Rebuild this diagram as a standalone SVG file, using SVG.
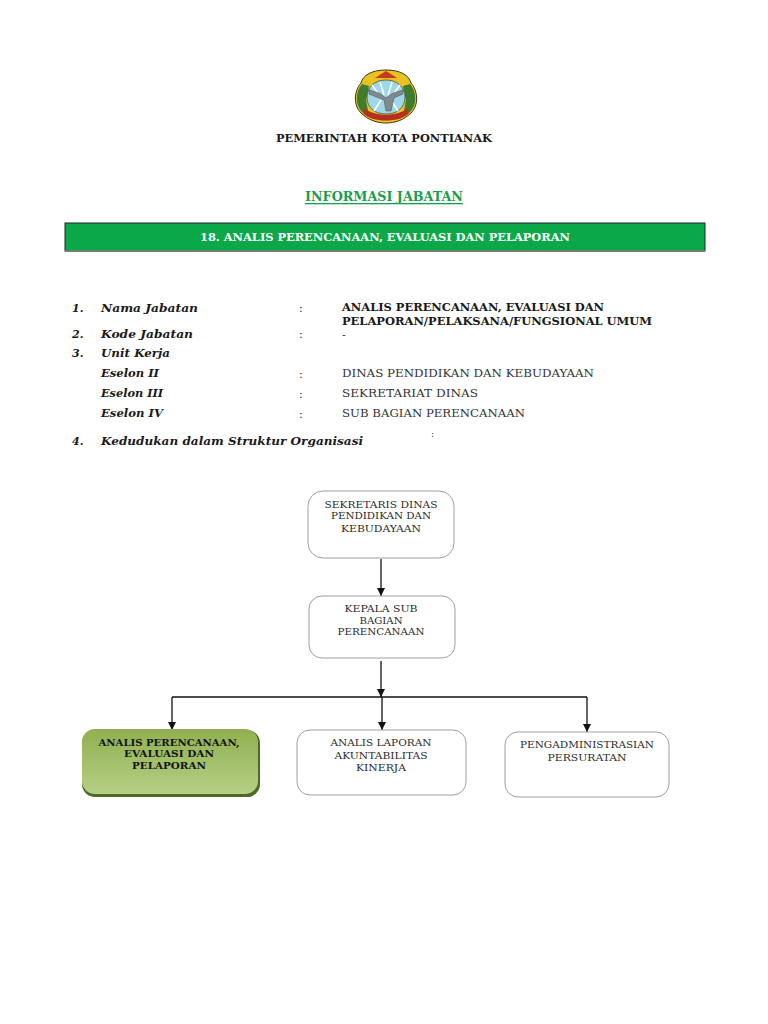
<svg xmlns="http://www.w3.org/2000/svg" width="768" height="1024" viewBox="0 0 768 1024">
<style>
text{font-family:"DejaVu Serif","Liberation Serif",serif;fill:#1a1a1a}
.b{font-weight:700}
.i{font-weight:700;font-style:italic;font-size:11px}
.v{font-size:11px;fill:#333}
.n{font-size:10px;text-anchor:middle;fill:#2a2a2a}
.box{fill:#fff;stroke:#9aa39a;stroke-width:1}
.c{fill:none;stroke:#111;stroke-width:1.3}
</style>
<defs>
<marker id="a" markerWidth="8" markerHeight="8" refX="8" refY="4" orient="auto" markerUnits="userSpaceOnUse" viewBox="0 0 8 8"><path d="M0 0L8 4L0 8Z" fill="#111"/></marker>
<linearGradient id="g" x1="0" y1="0" x2="0" y2="1"><stop offset="0" stop-color="#8fb04f"/><stop offset="1" stop-color="#b5cf85"/></linearGradient>
</defs>
<rect width="768" height="1024" fill="#fff"/>
<g id="logo">
<path d="M386 70C372 70 363 75 361 83C354 91 353 105 361 113C368 120 377 123 386 123C395 123 404 120 411 113C419 105 418 91 411 83C409 75 400 70 386 70Z" fill="#e8c21f" stroke="#3a3a1a" stroke-width="1"/>
<path d="M362 84C355 92 355 105 362 112L369 116L366 100L369 86Z" fill="#3f7d2c"/>
<path d="M410 84C417 92 417 105 410 112L403 116L406 100L403 86Z" fill="#3f7d2c"/>
<path d="M386 71L375 78L397 78Z" fill="#c9381f"/>
<path d="M386 80C375 80 367 87 367 97C367 108 375 114 386 114C397 114 405 108 405 97C405 87 397 80 386 80Z" fill="#9fd6e8" stroke="#2f3f3f" stroke-width="0.7"/>
<path d="M372 85L380 96M380 82L384 95M392 82L388 95M400 85L392 96M374 111L381 100M398 111L391 100" stroke="#fff" stroke-width="1.6" fill="none"/>
<path d="M369 90L379 93L386 98L393 93L403 90L403 94L394 98L391 111H386L384 100L369 94Z" fill="#7f8a8f" stroke="#333" stroke-width="0.4"/>
<path d="M365 108C372 117 400 117 407 108L409 113C401 123 371 123 363 113Z" fill="#b5301f"/>
</g>
<g id="header">
<text class="b" x="384" y="142" font-size="11" text-anchor="middle" textLength="216" lengthAdjust="spacingAndGlyphs">PEMERINTAH KOTA PONTIANAK</text>
<text class="b" x="384" y="201" font-size="12" text-anchor="middle" textLength="158" lengthAdjust="spacingAndGlyphs" style="fill:#16a04c">INFORMASI JABATAN</text>
<rect x="305" y="203" width="158" height="1.3" fill="#16a04c"/>
</g>
<g id="title-bar">
<rect x="65" y="223" width="640" height="28" fill="#0ba84a" stroke="#222" stroke-width="1"/>
<rect x="65" y="250" width="640" height="2" fill="#6f7f72"/>
<text class="b" x="385" y="241" font-size="11" text-anchor="middle" textLength="370" lengthAdjust="spacingAndGlyphs" style="fill:#fff">18. ANALIS PERENCANAAN, EVALUASI DAN PELAPORAN</text>
</g>
<g id="fields">
<text class="i" x="72" y="312">1.</text><text class="i" x="101" y="312" textLength="97" lengthAdjust="spacingAndGlyphs">Nama Jabatan</text>
<text class="v" x="299" y="312">:</text>
<text class="b" x="342" y="311" font-size="11" textLength="262" lengthAdjust="spacingAndGlyphs">ANALIS PERENCANAAN, EVALUASI DAN</text>
<text class="b" x="342" y="325" font-size="11" textLength="310" lengthAdjust="spacingAndGlyphs">PELAPORAN/PELAKSANA/FUNGSIONAL UMUM</text>
<text class="i" x="72" y="338">2.</text><text class="i" x="101" y="338" textLength="92" lengthAdjust="spacingAndGlyphs">Kode Jabatan</text>
<text class="v" x="299" y="338">:</text><text class="v" x="342" y="339">-</text>
<text class="i" x="72" y="357">3.</text><text class="i" x="101" y="357" textLength="69" lengthAdjust="spacingAndGlyphs">Unit Kerja</text>
<text class="i" x="101" y="377" textLength="58" lengthAdjust="spacingAndGlyphs">Eselon II</text>
<text class="v" x="299" y="378">:</text>
<text class="v" x="342" y="377" textLength="252" lengthAdjust="spacingAndGlyphs">DINAS PENDIDIKAN DAN KEBUDAYAAN</text>
<text class="i" x="101" y="397" textLength="62" lengthAdjust="spacingAndGlyphs">Eselon III</text>
<text class="v" x="299" y="398">:</text>
<text class="v" x="342" y="397" textLength="136" lengthAdjust="spacingAndGlyphs">SEKRETARIAT DINAS</text>
<text class="i" x="101" y="417" textLength="62" lengthAdjust="spacingAndGlyphs">Eselon IV</text>
<text class="v" x="299" y="418">:</text>
<text class="v" x="342" y="417" textLength="183" lengthAdjust="spacingAndGlyphs">SUB BAGIAN PERENCANAAN</text>
<text class="v" x="431" y="437" style="font-size:9px">:</text>
<text class="i" x="72" y="445">4.</text><text class="i" x="101" y="445" textLength="262" lengthAdjust="spacingAndGlyphs">Kedudukan dalam Struktur Organisasi</text>
</g>
<g id="connectors">
<path class="c" d="M381 559V596" marker-end="url(#a)"/>
<path class="c" d="M381 661V697" marker-end="url(#a)"/>
<path class="c" d="M172 697H587"/>
<path class="c" d="M172 697V730" marker-end="url(#a)"/>
<path class="c" d="M382 697V730" marker-end="url(#a)"/>
<path class="c" d="M587 697V732" marker-end="url(#a)"/>
</g>
<g id="node-sekretaris">
<rect class="box" x="308" y="491" width="146" height="67" rx="15"/>
<text class="n" x="381" y="508" textLength="113" lengthAdjust="spacingAndGlyphs">SEKRETARIS DINAS</text>
<text class="n" x="381" y="519" textLength="100" lengthAdjust="spacingAndGlyphs">PENDIDIKAN DAN</text>
<text class="n" x="381" y="532" textLength="80" lengthAdjust="spacingAndGlyphs">KEBUDAYAAN</text>
</g>
<g id="node-kepala">
<rect class="box" x="309" y="596" width="146" height="62" rx="13"/>
<text class="n" x="381" y="612" textLength="73" lengthAdjust="spacingAndGlyphs">KEPALA SUB</text>
<text class="n" x="381" y="624" textLength="43" lengthAdjust="spacingAndGlyphs">BAGIAN</text>
<text class="n" x="381" y="635" textLength="87" lengthAdjust="spacingAndGlyphs">PERENCANAAN</text>
</g>
<g id="node-analis-perencanaan">
<rect x="82" y="730" width="178" height="67" rx="13" fill="#4f6a26"/>
<rect x="82" y="729" width="176" height="65" rx="13" fill="url(#g)"/>
<text class="n b" x="169" y="746" textLength="141" lengthAdjust="spacingAndGlyphs" style="fill:#111">ANALIS PERENCANAAN,</text>
<text class="n b" x="169" y="757" textLength="90" lengthAdjust="spacingAndGlyphs" style="fill:#111">EVALUASI DAN</text>
<text class="n b" x="169" y="769" textLength="74" lengthAdjust="spacingAndGlyphs" style="fill:#111">PELAPORAN</text>
</g>
<g id="node-analis-laporan">
<rect class="box" x="297" y="730" width="169" height="65" rx="13"/>
<text class="n" x="381" y="746" textLength="101" lengthAdjust="spacingAndGlyphs">ANALIS LAPORAN</text>
<text class="n" x="381" y="759" textLength="93" lengthAdjust="spacingAndGlyphs">AKUNTABILITAS</text>
<text class="n" x="381" y="771" textLength="50" lengthAdjust="spacingAndGlyphs">KINERJA</text>
</g>
<g id="node-pengadministrasian">
<rect class="box" x="505" y="732" width="164" height="65" rx="13"/>
<text class="n" x="587" y="748" textLength="134" lengthAdjust="spacingAndGlyphs">PENGADMINISTRASIAN</text>
<text class="n" x="587" y="761" textLength="79" lengthAdjust="spacingAndGlyphs">PERSURATAN</text>
</g>
</svg>
